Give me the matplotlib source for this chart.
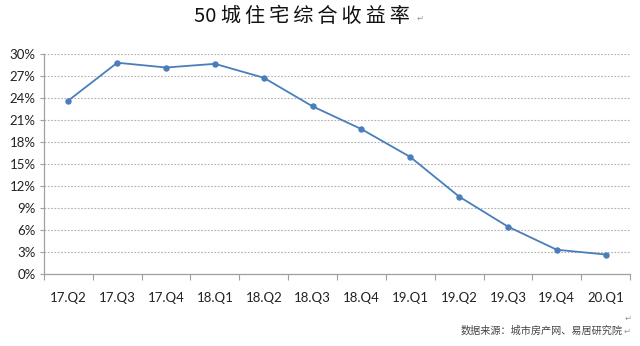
import matplotlib
matplotlib.use("Agg")
import matplotlib.pyplot as plt
from matplotlib.ticker import MultipleLocator, FuncFormatter, FixedLocator

categories = ["17.Q2", "17.Q3", "17.Q4", "18.Q1", "18.Q2", "18.Q3",
              "18.Q4", "19.Q1", "19.Q2", "19.Q3", "19.Q4", "20.Q1"]
values = [23.7, 28.85, 28.2, 28.7, 26.8, 22.9, 19.8, 16.0, 10.6, 6.5, 3.35, 2.7]
title_num = "50"
title_text = "城住宅综合收益率"
source = "数据来源：城市房产网、易居研究院"

cjk = ["Noto Sans CJK SC", "DejaVu Sans"]
latin = ["Lato", "DejaVu Sans"]

fig = plt.figure(figsize=(6.4, 3.46), dpi=100)
ax = fig.add_axes([44/640, 1-274.3/346, (630-44)/640, (274.3-54.3)/346])

x = list(range(len(categories)))
ax.plot(x, values, color="#4A7EBB", lw=1.3, marker="o", ms=3.6, zorder=3)

ax.set_xlim(-0.5, len(categories)-0.5)
ax.set_ylim(0, 30)
ax.yaxis.set_major_locator(MultipleLocator(3))
ax.yaxis.set_major_formatter(FuncFormatter(lambda v, p: f"{v:.0f}%"))
ax.set_xticks(x)
ax.set_xticklabels(categories, family=latin, fontsize=9.5, color="#222222")
ax.xaxis.set_minor_locator(FixedLocator([i - 0.5 for i in range(len(categories)+1)]))
ax.tick_params(axis="x", which="major", length=0, pad=13)
ax.tick_params(axis="x", which="minor", length=4, color="#A0A0A0", width=0.8)
ax.tick_params(axis="y", length=3, color="#A0A0A0", width=0.8, pad=3,
               labelsize=9.5, labelcolor="#222222")
for lab in ax.get_yticklabels():
    lab.set_family(latin)

ax.grid(axis="y", color="#B0B0B0", ls=(0, (1.5, 1.5)), lw=0.8)
ax.set_axisbelow(True)
for s in ["top", "right"]:
    ax.spines[s].set_visible(False)
for s in ["left", "bottom"]:
    ax.spines[s].set_color("#A0A0A0")
    ax.spines[s].set_linewidth(0.9)

spaced_title = title_num + " " + "\u2009".join(title_text)
fig.text(302/640, 1-16/346, spaced_title, ha="center", va="center", fontsize=14.5,
         family=cjk, color="#111111")
fig.text(417/640, 1-18/346, "↵", ha="left", va="center", fontsize=6, color="#999999")
fig.text(0.987, 1-318/346, "↵", ha="right", va="center", fontsize=6, color="#999999")
fig.text(0.973, 1-331/346, source, ha="right", va="center", fontsize=7.3,
         family=cjk, color="#444444")
fig.text(0.975, 1-331/346, "↵", ha="left", va="center", fontsize=6, color="#999999")

fig.savefig("out.png", dpi=100, facecolor="white")
